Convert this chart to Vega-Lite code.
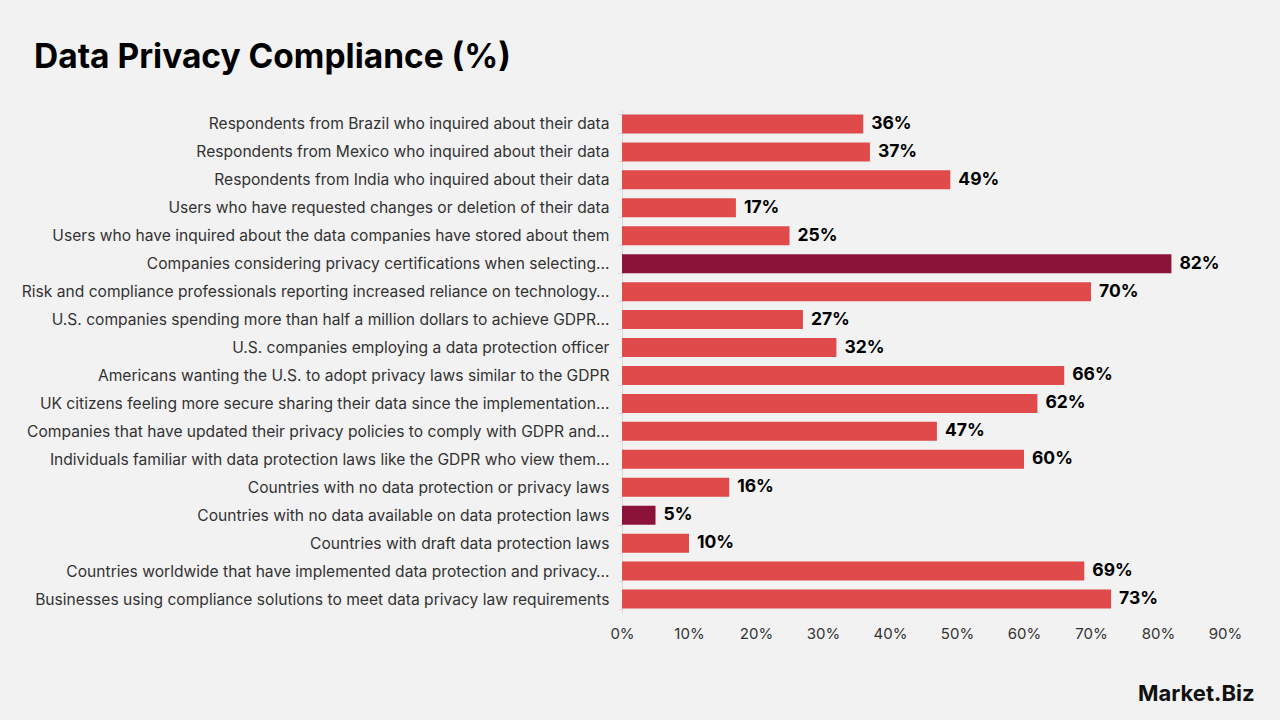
{
  "$schema": "https://vega.github.io/schema/vega-lite/v6.json",
  "width": 603,
  "height": 503,
  "autosize": "none",
  "padding": {"left": 622, "top": 110, "right": 55, "bottom": 107},
  "background": "#f2f2f2",
  "config": {"view": {"stroke": null}},
  "title": {
    "text": "Data Privacy Compliance (%)",
    "anchor": "start",
    "frame": "group",
    "dx": -588,
    "offset": 28,
    "fontSize": 33.5,
    "font": "Inter",
    "fontWeight": "bold",
    "color": "#000000"
  },
  "data": {
    "values": [
      {"label": "Respondents from Brazil who inquired about their data", "value": 36, "hl": "n"},
      {"label": "Respondents from Mexico who inquired about their data", "value": 37, "hl": "n"},
      {"label": "Respondents from India who inquired about their data", "value": 49, "hl": "n"},
      {"label": "Users who have requested changes or deletion of their data", "value": 17, "hl": "n"},
      {"label": "Users who have inquired about the data companies have stored about them", "value": 25, "hl": "n"},
      {"label": "Companies considering privacy certifications when selecting…", "value": 82, "hl": "y"},
      {"label": "Risk and compliance professionals reporting increased reliance on technology…", "value": 70, "hl": "n"},
      {"label": "U.S. companies spending more than half a million dollars to achieve GDPR…", "value": 27, "hl": "n"},
      {"label": "U.S. companies employing a data protection officer", "value": 32, "hl": "n"},
      {"label": "Americans wanting the U.S. to adopt privacy laws similar to the GDPR", "value": 66, "hl": "n"},
      {"label": "UK citizens feeling more secure sharing their data since the implementation…", "value": 62, "hl": "n"},
      {"label": "Companies that have updated their privacy policies to comply with GDPR and…", "value": 47, "hl": "n"},
      {"label": "Individuals familiar with data protection laws like the GDPR who view them…", "value": 60, "hl": "n"},
      {"label": "Countries with no data protection or privacy laws", "value": 16, "hl": "n"},
      {"label": "Countries with no data available on data protection laws", "value": 5, "hl": "y"},
      {"label": "Countries with draft data protection laws", "value": 10, "hl": "n"},
      {"label": "Countries worldwide that have implemented data protection and privacy…", "value": 69, "hl": "n"},
      {"label": "Businesses using compliance solutions to meet data privacy law requirements", "value": 73, "hl": "n"}
    ]
  },
  "encoding": {
    "y": {
      "field": "label",
      "type": "nominal",
      "sort": null,
      "scale": {"paddingInner": 0.32, "paddingOuter": 0.16},
      "axis": {
        "title": null,
        "labelFont": "Inter",
        "labelFontSize": 15.6,
        "labelColor": "#333333",
        "labelLimit": 700,
        "labelPadding": 9,
        "domainColor": "#d9d9d9",
        "tickColor": "#d9d9d9",
        "tickSize": 4,
        "tickBand": "extent"
      }
    },
    "x": {
      "field": "value",
      "type": "quantitative",
      "scale": {"domain": [0, 90]},
      "axis": {
        "values": [0, 10, 20, 30, 40, 50, 60, 70, 80, 90],
        "labelExpr": "datum.value + '%'",
        "labelOverlap": false,
        "labelFlush": false,
        "grid": false,
        "domain": false,
        "ticks": false,
        "labelFont": "Inter",
        "labelFontSize": 15,
        "labelColor": "#333333",
        "labelPadding": 13,
        "title": "Market.Biz",
        "titleFont": "Inter",
        "titleFontSize": 22,
        "titleFontWeight": "bold",
        "titleColor": "#111111",
        "titleAnchor": "end",
        "titleAlign": "right",
        "titleBaseline": "alphabetic",
        "titleX": 632,
        "titleY": 87
      }
    }
  },
  "layer": [
    {
      "mark": {"type": "bar"},
      "encoding": {
        "color": {
          "field": "hl",
          "type": "nominal",
          "scale": {"domain": ["n", "y"], "range": ["#e04a4a", "#8b1238"]},
          "legend": null
        }
      }
    },
    {
      "mark": {"type": "text", "align": "left", "baseline": "middle", "dx": 8, "font": "Inter", "fontSize": 17.5, "fontWeight": "bold", "color": "#000000", "text": {"expr": "datum.value + '%'"}},
      "encoding": {
        "x": {"field": "value", "type": "quantitative"}
      }
    }
  ]
}
